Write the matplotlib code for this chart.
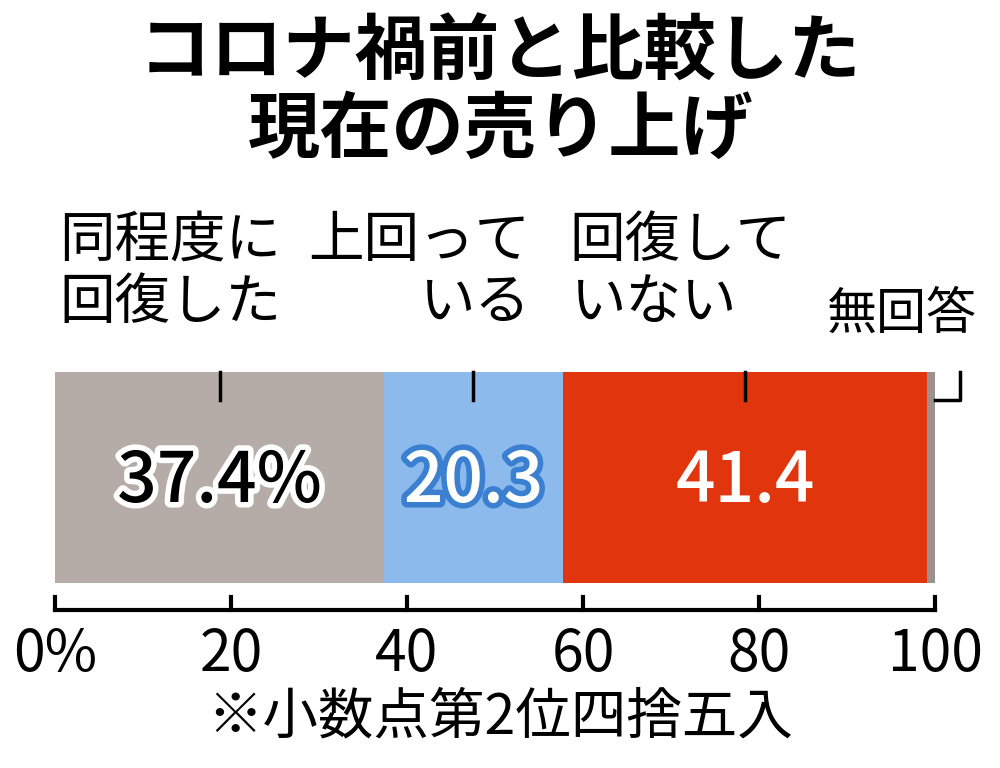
import matplotlib
matplotlib.use("Agg")
import matplotlib.pyplot as plt
import matplotlib.patheffects as pe

plt.rcParams['font.family'] = ['Noto Sans CJK JP', 'DejaVu Sans']

categories = ["同程度に\n回復した", "上回って\nいる", "回復して\nいない", "無回答"]
values = [37.4, 20.3, 41.4, 0.9]
bar_labels = ["37.4%", "20.3", "41.4", ""]
colors = ["#b5aca7", "#8dbaec", "#e0350d", "#9c918e"]
ticks = [0, 20, 40, 60, 80, 100]
tick_labels = ["0%", "20", "40", "60", "80", "100"]

fig = plt.figure(figsize=(10, 7.68), dpi=100)
ax = fig.add_axes([0.055, 0, 0.88, 1])
ax.set_xlim(0, 100)
ax.set_ylim(768, 0)
ax.axis("off")

# stacked bar
left = 0
for v, c in zip(values, colors):
    ax.barh(477.5, v, left=left, height=211, color=c, edgecolor="none")
    left += v

# numbers in the bar
starts = [sum(values[:i]) for i in range(len(values))]
text_styles = [("black", "white"), ("white", "#3a7fd0"), ("white", None)]
for i, (fc, oc) in enumerate(text_styles):
    t = ax.text(starts[i] + values[i] / 2, 482, bar_labels[i], ha="center", va="center",
                fontsize=50, color=fc, fontweight="medium")
    if oc:
        t.set_path_effects([pe.withStroke(linewidth=8, foreground=oc)])

# title
ax.text(50.6, 92, "コロナ禍前と比較した\n現在の売り上げ", ha="center", va="center",
        fontsize=52, fontweight="bold", linespacing=1.05)

# category labels and leader lines
lab_x = [0.5, 54.0, 58.5]
lab_ha = ["left", "right", "left"]
for i in range(3):
    ax.text(lab_x[i], 272, categories[i], ha=lab_ha[i], va="center", fontsize=40,
            linespacing=1.1)
    mid = starts[i] + values[i] / 2
    ax.plot([mid, mid], [372, 400], color="black", lw=2.5)
ax.text(104.8, 315, categories[3], ha="right", va="center", fontsize=36, clip_on=False)
ax.plot([102.8, 102.8, 100], [372, 400, 400], color="black", lw=2.5, clip_on=False)

# axis
ax.plot([0, 100], [610, 610], color="black", lw=3, clip_on=False)
for t, tl in zip(ticks, tick_labels):
    ax.plot([t, t], [597, 610], color="black", lw=3, clip_on=False)
    ax.text(t, 655, tl, ha="center", va="center", fontsize=41, clip_on=False)

ax.text(50.6, 718, "※小数点第2位四捨五入", ha="center", va="center", fontsize=40)

fig.savefig("out.png", dpi=100)
